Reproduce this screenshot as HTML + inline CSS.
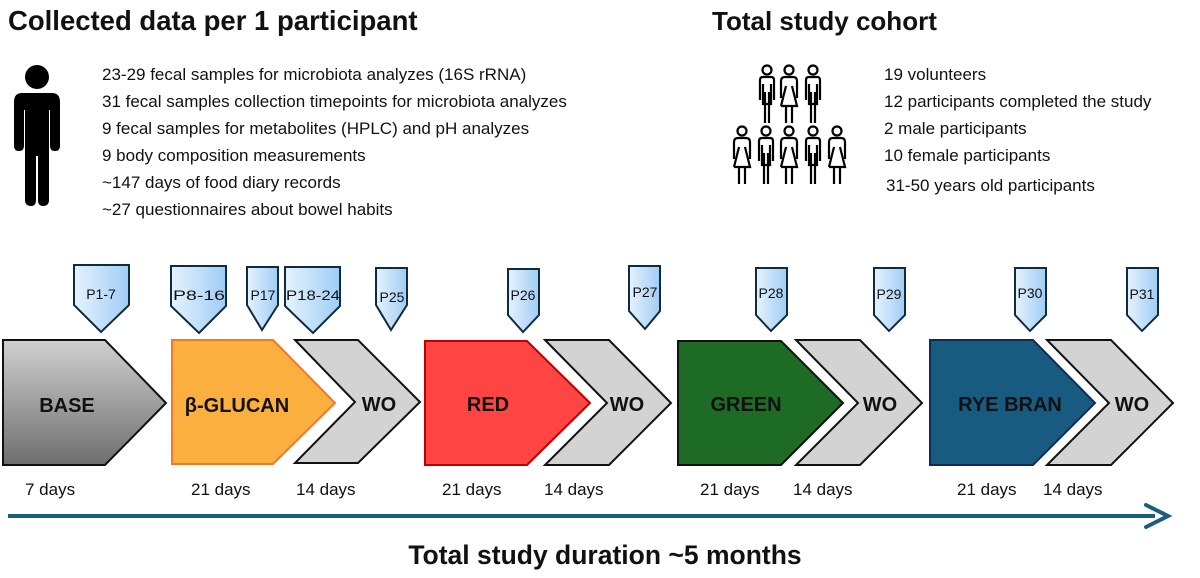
<!DOCTYPE html>
<html><head><meta charset="utf-8"><style>
body{margin:0;background:#fff;}
svg{display:block;font-family:"Liberation Sans",sans-serif;}
</style></head><body>
<svg width="1200" height="578" viewBox="0 0 1200 578" xmlns="http://www.w3.org/2000/svg">
<defs>
<linearGradient id="mk" x1="0" x2="1" y1="0" y2="0"><stop offset="0" stop-color="#e6f2fd"/><stop offset="1" stop-color="#9fcdf5"/></linearGradient>
<linearGradient id="gb" x1="0" x2="0" y1="0" y2="1"><stop offset="0" stop-color="#d0d0d0"/><stop offset="1" stop-color="#6e6e6e"/></linearGradient>
<g id="man"><circle cx="0" cy="-20" r="4.5" fill="none" stroke="#000" stroke-width="2.2"/><path d="M-2,33 V2 M2,33 V2 M-2,2 V12 M-7,10 V-10 Q-7,-13 -4,-13 H4 Q7,-13 7,-10 V10 M-4,-6 V14 H4 V-6" fill="none" stroke="#000" stroke-width="2.2"/></g>
<g id="woman"><circle cx="0" cy="-20" r="4.5" fill="none" stroke="#000" stroke-width="2.2"/><path d="M-3,33 V16 M3,33 V16 M-8,16 H8 L3,-4 M-8,16 L-3,-4 M-8,8 V-9 Q-8,-13 -4,-13 H4 Q8,-13 8,-9 V8" fill="none" stroke="#000" stroke-width="2.2"/></g>
</defs>

<text x="8" y="30" font-size="27.5" font-weight="bold" fill="#111">Collected data per 1 participant</text>
<text x="712" y="30" font-size="26" font-weight="bold" fill="#111">Total study cohort</text>

<g>
<circle cx="37" cy="77" r="12" fill="#000"/>
<path d="M22,93 H52 Q60,93 60,102 V146 Q60,151 55,151 Q50,151 50,146 V110 H49 V200 Q49,206 43,206 Q38,206 38,200 V156 H36 V200 Q36,206 31,206 Q25,206 25,200 V110 H24 V146 Q24,151 19,151 Q14,151 14,146 V102 Q14,93 22,93 Z" fill="#000"/>
</g>

<g font-size="17" fill="#111">
<text x="102" y="80">23-29 fecal samples for microbiota analyzes (16S rRNA)</text>
<text x="102" y="107">31 fecal samples collection timepoints for microbiota analyzes</text>
<text x="102" y="134">9 fecal samples for metabolites (HPLC) and pH analyzes</text>
<text x="102" y="161">9 body composition measurements</text>
<text x="102" y="188">~147 days of food diary records</text>
<text x="102" y="215">~27 questionnaires about bowel habits</text>
</g>

<g>
<use href="#man" x="767" y="90"/><use href="#woman" x="789" y="90"/><use href="#man" x="813" y="90"/>
<use href="#woman" x="742" y="151"/><use href="#man" x="766" y="151"/><use href="#woman" x="789" y="151"/><use href="#man" x="813" y="151"/><use href="#woman" x="837" y="151"/>
</g>

<g font-size="17" fill="#111">
<text x="884" y="80">19 volunteers</text>
<text x="884" y="107">12 participants completed the study</text>
<text x="884" y="134">2 male participants</text>
<text x="884" y="161">10 female participants</text>
<text x="886" y="191">31-50 years old participants</text>
</g>

<g stroke-width="2">
<path d="M3,340 H105 L166,403 L105,465 H3 Z" fill="url(#gb)" stroke="#111"/>
<path d="M172,340 H273 L335,403 L273,464 H172 Z" fill="#fbaf3f" stroke="#f07a28"/>
<path d="M295,340 H358 L420,402 L358,463 H295 L355,402 Z" fill="#d3d3d3" stroke="#111"/>
<path d="M425,341 H527 L590,403 L527,465 H425 Z" fill="#ff4444" stroke="#c00000"/>
<path d="M545,340 H609 L671,403 L609,465 H545 L607,403 Z" fill="#d3d3d3" stroke="#111"/>
<path d="M678,341 H781 L843,403 L781,465 H678 Z" fill="#1e6b26" stroke="#111"/>
<path d="M796,340 H860 L922,403 L860,465 H796 L858,403 Z" fill="#d3d3d3" stroke="#111"/>
<path d="M930,340 H1033 L1095,403 L1033,465 H930 Z" fill="#175c80" stroke="#0f2b5a"/>
<path d="M1047,340 H1111 L1173,403 L1111,465 H1047 L1109,403 Z" fill="#d3d3d3" stroke="#111"/>
</g>
<g font-size="20" font-weight="bold" fill="#111" text-anchor="middle">
<text x="67" y="412">BASE</text>
<text x="237" y="412">β-GLUCAN</text>
<text x="379" y="411">WO</text>
<text x="488" y="411">RED</text>
<text x="627" y="411">WO</text>
<text x="746" y="411">GREEN</text>
<text x="880" y="411">WO</text>
<text x="1010" y="411">RYE BRAN</text>
<text x="1132" y="411">WO</text>
</g>

<g stroke="#0f2b3f" stroke-width="2" fill="url(#mk)">
<path d="M74,265 H129 V305 L101,332 L74,305 Z"/>
<path d="M171,266 H226 V306 L199,333 L171,306 Z"/>
<path d="M247,267 H278 V305 L262,330 L247,305 Z"/>
<path d="M285,267 H340 V306 L313,333 L285,306 Z"/>
<path d="M376,268 H407 V305 L391,330 L376,305 Z"/>
<path d="M508,269 H539 V315 L523,332 L508,315 Z"/>
<path d="M629,266 H660 V311 L645,329 L629,311 Z"/>
<path d="M756,268 H787 V315 L771,331 L756,315 Z"/>
<path d="M874,268 H905 V315 L889,331 L874,315 Z"/>
<path d="M1015,268 H1046 V315 L1030,331 L1015,315 Z"/>
<path d="M1127,268 H1158 V315 L1142,331 L1127,315 Z"/>
</g>
<g font-size="14" fill="#111" text-anchor="middle">
<text x="101" y="299">P1-7</text><text x="199" y="300" textLength="52" lengthAdjust="spacingAndGlyphs">P8-16</text><text x="263" y="300">P17</text>
<text x="313" y="300" textLength="54" lengthAdjust="spacingAndGlyphs">P18-24</text><text x="392" y="302">P25</text><text x="523" y="300">P26</text>
<text x="645" y="297">P27</text><text x="771" y="298">P28</text><text x="889" y="299">P29</text>
<text x="1030" y="298">P30</text><text x="1142" y="299">P31</text>
</g>

<g font-size="17" fill="#111">
<text x="25" y="495">7 days</text>
<text x="191" y="495">21 days</text><text x="296" y="495">14 days</text>
<text x="442" y="495">21 days</text><text x="544" y="495">14 days</text>
<text x="700" y="495">21 days</text><text x="793" y="495">14 days</text>
<text x="957" y="495">21 days</text><text x="1043" y="495">14 days</text>
</g>

<g>
<line x1="8" y1="516" x2="1155" y2="516" stroke="#1b5e80" stroke-width="4"/>
<path d="M1146,505 L1168,516 L1146,527" fill="none" stroke="#1b5e80" stroke-width="4" stroke-linecap="round"/>
</g>
<text x="605" y="564" font-size="26.5" font-weight="bold" fill="#111" text-anchor="middle">Total study duration ~5 months</text>
</svg>
</body></html>
